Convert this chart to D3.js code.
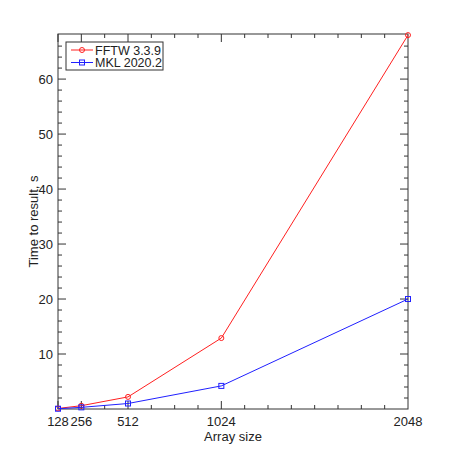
<!DOCTYPE html><html><head><meta charset="utf-8">
<script src="https://cdn.jsdelivr.net/npm/d3@7"></script>
<style>body{margin:0;background:#fff}text{font-family:"Liberation Sans",Arial,sans-serif;fill:#222}</style></head><body>
<svg id="c" width="450" height="460"></svg>
<script>
const sizes=[128,256,512,1024,2048];
const fftw=[0.1,0.6,2.2,12.9,68];
const mkl=[0.05,0.3,1.0,4.2,20];
const seriesNames=["FFTW 3.3.9","MKL 2020.2"];
const yTicks=[10,20,30,40,50,60];
const svg=d3.select("#c");
const L=58,R=408,T=34,B=409;
const x=d3.scaleLinear().domain([128,2048]).range([L,R]);
const y=d3.scaleLinear().domain([0,68.2]).range([B,T]);
const g=svg.append("g");
g.append("rect").attr("x",L).attr("y",T).attr("width",R-L).attr("height",B-T).attr("fill","none").attr("stroke","#333");
const xminor=d3.range(128,2048,128), yminor=d3.range(2,68,2);
xminor.forEach(v=>{const len=sizes.includes(v)?8:4;
 g.append("line").attr("x1",x(v)).attr("x2",x(v)).attr("y1",B).attr("y2",B-len).attr("stroke","#333");
 g.append("line").attr("x1",x(v)).attr("x2",x(v)).attr("y1",T).attr("y2",T+len).attr("stroke","#333");});
yminor.forEach(v=>{const len=v%10==0?8:4;
 g.append("line").attr("y1",y(v)).attr("y2",y(v)).attr("x1",L).attr("x2",L+len).attr("stroke","#333");
 g.append("line").attr("y1",y(v)).attr("y2",y(v)).attr("x1",R).attr("x2",R-len).attr("stroke","#333");});
sizes.forEach(v=>g.append("text").attr("x",x(v)).attr("y",B+17).attr("text-anchor","middle").attr("font-size",13).text(v));
yTicks.forEach(v=>g.append("text").attr("x",L-5).attr("y",y(v)+4.5).attr("text-anchor","end").attr("font-size",13).text(v));
g.append("text").attr("x",(L+R)/2).attr("y",B+32).attr("text-anchor","middle").attr("font-size",13).text("Array size");
g.append("text").attr("transform",`translate(38,${(T+B)/2}) rotate(-90)`).attr("text-anchor","middle").attr("font-size",13).text("Time to result, s");
const line=d3.line().x((d,i)=>x(sizes[i])).y(d=>y(d));
[[fftw,"#ff2020","c"],[mkl,"#2020ff","s"]].forEach(([data,col,m])=>{
 g.append("path").attr("d",line(data)).attr("fill","none").attr("stroke",col).attr("stroke-width",1);
 data.forEach((d,i)=>{
  if(m=="c")g.append("circle").attr("cx",x(sizes[i])).attr("cy",y(d)).attr("r",2.5).attr("fill","none").attr("stroke",col);
  else g.append("rect").attr("x",x(sizes[i])-2.5).attr("y",y(d)-2.5).attr("width",5).attr("height",5).attr("fill","none").attr("stroke",col);
 });
});
const lg=g.append("g");
lg.append("rect").attr("x",66).attr("y",42).attr("width",97).attr("height",28).attr("fill","#fff").attr("stroke","#333");
[["#ff2020","c"],["#2020ff","s"]].forEach(([col,m],i)=>{
 const yy=50+i*12.5;
 lg.append("line").attr("x1",71).attr("x2",93).attr("y1",yy).attr("y2",yy).attr("stroke",col);
 if(m=="c")lg.append("circle").attr("cx",82).attr("cy",yy).attr("r",2.5).attr("fill","none").attr("stroke",col);
 else lg.append("rect").attr("x",79.5).attr("y",yy-2.5).attr("width",5).attr("height",5).attr("fill","none").attr("stroke",col);
 lg.append("text").attr("x",95).attr("y",yy+4.5).attr("font-size",12.5).text(seriesNames[i]);
});
</script></body></html>
